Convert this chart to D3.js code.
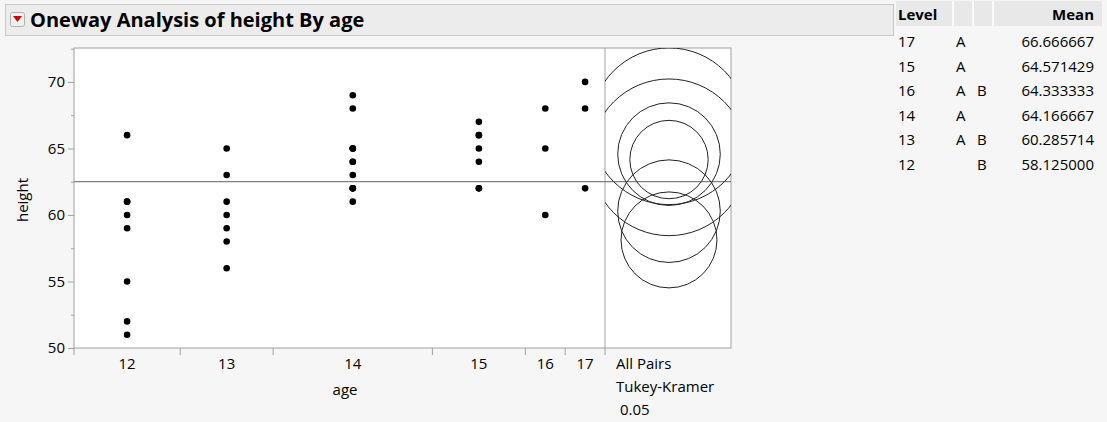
<!DOCTYPE html>
<html><head><meta charset="utf-8">
<script src="https://cdn.jsdelivr.net/npm/d3@7"></script>
<style>body{margin:0;background:#f6f6f6;font-family:"Open Sans","Segoe UI",sans-serif}</style>
</head><body><svg id="c" width="1107" height="422"></svg>
<script>
const ages = ['12', '13', '14', '15', '16', '17']
const heights = {
  '12': [66, 61, 61, 60, 59, 55, 52, 51],
  '13': [65, 63, 61, 60, 59, 58, 56],
  '14': [69, 68, 65, 65, 65, 64, 64, 63, 62, 62, 61, 62],
  '15': [67, 66, 66, 65, 64, 62, 62],
  '16': [68, 65, 60],
  '17': [70, 68, 62]
}
const tableLevels = ['17', '15', '16', '14', '13', '12']
const tableLetters = [['A', ''], ['A', ''], ['A', 'B'], ['A', ''], ['A', 'B'], ['', 'B']]
const tableMeans = ['66.666667', '64.571429', '64.333333', '64.166667', '60.285714', '58.125000']
const yTicks = [50, 55, 60, 65, 70]
const grandMean = 62.5
const circleK = 10.2

const svg = d3.select('#c')
const grey = '#a0a0a0'

// title bar
svg.append('rect').attr('x', 5.5).attr('y', 4.5).attr('width', 888).attr('height', 31)
  .attr('fill', '#ececec').attr('stroke', '#c8c8c8')
svg.append('rect').attr('x', 10.5).attr('y', 12.5).attr('width', 14).attr('height', 14).attr('rx', 2)
  .attr('fill', '#f0f0f0').attr('stroke', '#b0b0b0')
svg.append('path').attr('d', 'M13,16 L22,16 L17.5,22 Z').attr('fill', '#d00000')
svg.append('text').attr('x', 30).attr('y', 27).attr('font-size', 20).attr('font-weight', 'bold')
  .text('Oneway Analysis of height By age')

const pLeft = 74, pRight = 731, divider = 605, pTop = 48, pBottom = 348
const counts = ages.map(a => heights[a].length)
const total = d3.sum(counts)
const x = d3.scaleLinear().domain([0, total]).range([pLeft, divider])
const y = d3.scaleLinear().domain([50, 72.55]).range([pBottom, pTop])
const cum = [0]
counts.forEach(c => cum.push(cum[cum.length - 1] + c))

svg.append('rect').attr('x', pLeft).attr('y', pTop).attr('width', pRight - pLeft).attr('height', pBottom - pTop)
  .attr('fill', 'white').attr('stroke', grey)
svg.append('line').attr('x1', divider).attr('x2', divider).attr('y1', pTop).attr('y2', pBottom).attr('stroke', grey)

// y axis
const ya = svg.append('g').attr('transform', `translate(${pLeft},0)`)
  .call(d3.axisLeft(y).tickValues(d3.range(50, 73, 2.5)).tickSize(6).tickFormat(d => yTicks.includes(d) ? d : ''))
ya.select('.domain').remove()
ya.selectAll('line').attr('stroke', grey).attr('x2', d => yTicks.includes(d) ? -6 : -3)
ya.selectAll('text').attr('font-size', 15).attr('fill', '#000').attr('font-family', 'Open Sans')

// x axis
const xa = svg.append('g').attr('transform', `translate(0,${pBottom})`)
xa.selectAll('line').data(cum).join('line')
  .attr('x1', d => x(d)).attr('x2', d => x(d)).attr('y1', 0).attr('y2', 7).attr('stroke', grey)
xa.selectAll('text').data(ages).join('text')
  .attr('x', (d, i) => x((cum[i] + cum[i + 1]) / 2)).attr('y', 21).attr('text-anchor', 'middle')
  .attr('font-size', 15).text(d => d)

svg.append('text').attr('transform', 'translate(28,200) rotate(-90)').attr('text-anchor', 'middle')
  .attr('font-size', 15).text('height')
svg.append('text').attr('x', 345).attr('y', 395).attr('text-anchor', 'middle').attr('font-size', 15).text('age')
;['All Pairs', 'Tukey-Kramer', ' 0.05'].forEach((t, i) => {
  svg.append('text').attr('x', i === 2 ? 620 : 616).attr('y', 369 + i * 23).attr('font-size', 15).text(t)
})

// grand mean
svg.append('line').attr('x1', pLeft).attr('x2', pRight).attr('y1', y(grandMean)).attr('y2', y(grandMean))
  .attr('stroke', '#808080').attr('stroke-width', 1.2)

// points
ages.forEach((a, i) => {
  const cx = x((cum[i] + cum[i + 1]) / 2)
  svg.append('g').selectAll('circle').data(heights[a]).join('circle')
    .attr('cx', cx).attr('cy', d => y(d)).attr('r', 3.3).attr('fill', 'black')
})

// comparison circles
svg.append('clipPath').attr('id', 'cp').append('rect')
  .attr('x', divider).attr('y', pTop).attr('width', pRight - divider).attr('height', pBottom - pTop)
const cg = svg.append('g').attr('clip-path', 'url(#cp)')
const pxPerUnit = y(50) - y(51)
ages.forEach(a => {
  const m = d3.mean(heights[a])
  cg.append('circle').attr('cx', 669).attr('cy', y(m)).attr('r', circleK / Math.sqrt(heights[a].length) * pxPerUnit)
    .attr('fill', 'none').attr('stroke', '#222').attr('stroke-width', 1)
})

// connecting letters table
const tb = svg.append('g').attr('font-size', 15)
tb.append('rect').attr('x', 896).attr('y', 1).attr('width', 206).attr('height', 25).attr('fill', '#e8e8e8')
;[953, 973, 993].forEach(v => tb.append('line').attr('x1', v).attr('x2', v).attr('y1', 1).attr('y2', 26).attr('stroke', '#fafafa').attr('stroke-width', 2))
tb.append('text').attr('x', 898).attr('y', 20).attr('font-weight', 'bold').text('Level')
tb.append('text').attr('x', 1094).attr('y', 20).attr('font-weight', 'bold').attr('text-anchor', 'end').text('Mean')
tableLevels.forEach((l, i) => {
  const ty = 47 + i * 24.5
  tb.append('text').attr('x', 898).attr('y', ty).text(l)
  tb.append('text').attr('x', 956).attr('y', ty).text(tableLetters[i][0])
  tb.append('text').attr('x', 977).attr('y', ty).text(tableLetters[i][1])
  tb.append('text').attr('x', 1094).attr('y', ty).attr('text-anchor', 'end').text(tableMeans[i])
})
</script></body></html>
